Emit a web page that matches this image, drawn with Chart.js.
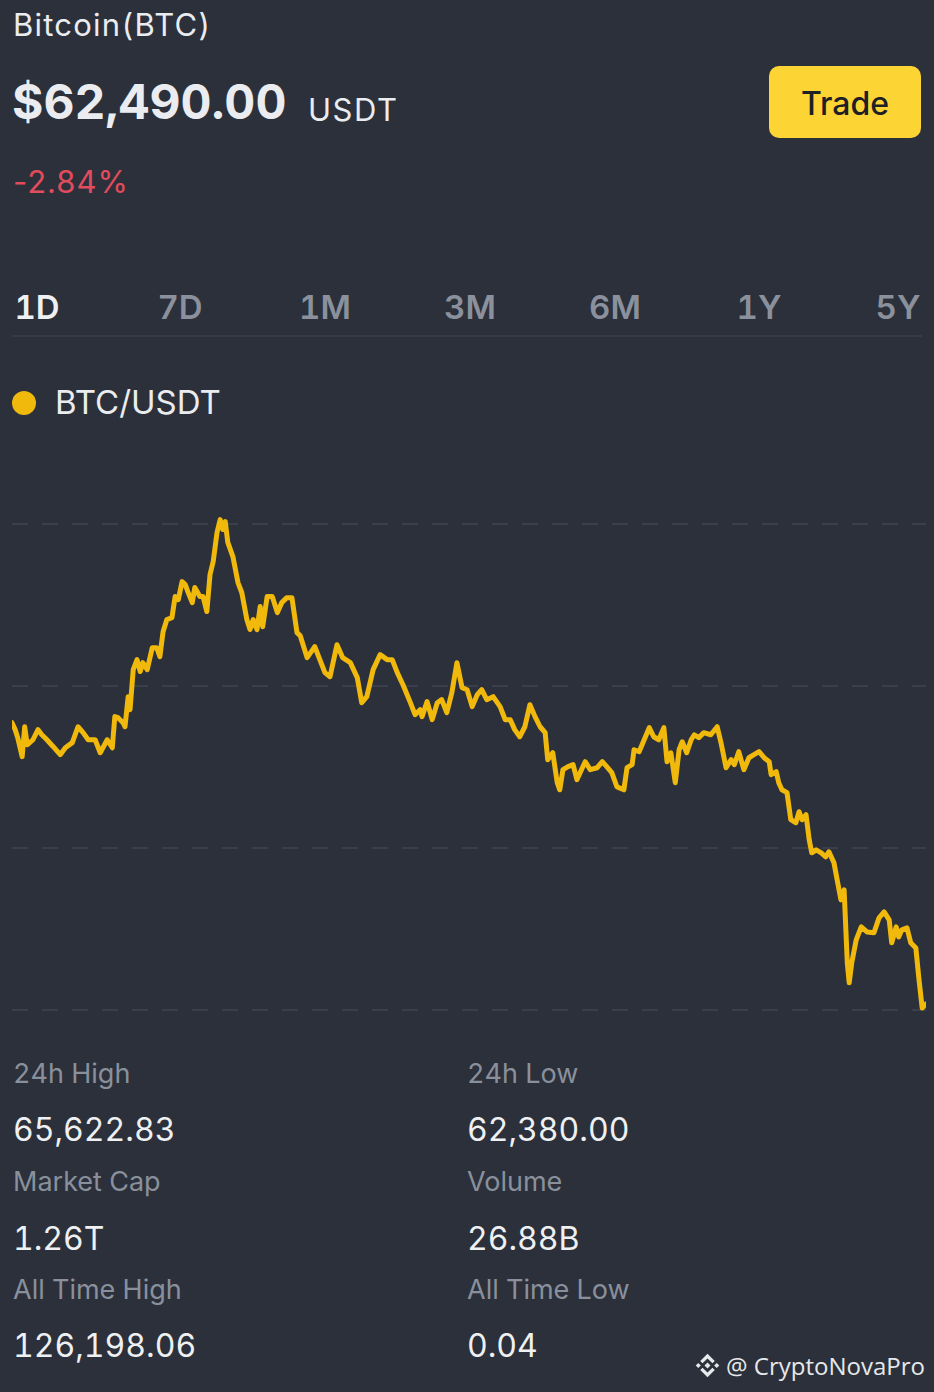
<!DOCTYPE html>
<html>
<head>
<meta charset="utf-8">
<script src="https://cdn.jsdelivr.net/npm/chart.js@4.4.1/dist/chart.umd.min.js"></script>
<style>
    html, body {
        margin: 0;
        padding: 0;
        width: 934px;
        height: 1392px;
        background: #2b303b;
        overflow: hidden;
        font-family: "Inter", "Lato", sans-serif;
        font-variant-numeric: tabular-nums;
        color: #eaecef;
    }
    .t {
        position: absolute;
        line-height: 1;
        white-space: nowrap;
    }
    .tab {
        position: absolute;
        top: 291px;
        font-size: 33px;
        font-weight: 600;
        line-height: 1;
        color: #8b919c;
        transform: translateX(-50%);
    }
    .tab.active {
        color: #eef0f2;
    }
    .label {
        font-size: 27px;
        color: #8a909b;
    }
    .value {
        font-size: 32px;
        color: #eef0f2;
    }
    #chart_box {
        position: absolute;
        left: 12px;
        top: 508px;
        width: 914px;
        height: 514px;
    }
</style>
</head>
<body>

<div class="t" style="left:13px; top:9px; font-size:31px; letter-spacing:1.2px;">Bitcoin(BTC)</div>
<div class="t" style="left:12px; top:78px; font-size:48px; font-weight:700;">$62,490.00</div>
<div class="t" style="left:308px; top:94px; font-size:31px; letter-spacing:1.5px;">USDT</div>
<div class="t" style="left:13px; top:166px; font-size:31px; font-variant-numeric:normal; letter-spacing:1px; color:#e24b5b;">-2.84%</div>

<div style="position:absolute; left:769px; top:66px; width:152px; height:72px; border-radius:10px; background:#fcd535;">
    <div class="t" style="left:0; width:152px; top:22px; text-align:center; font-size:32px; font-weight:500; color:#1e2026;">Trade</div>
</div>

<div id="tabs"></div>
<div style="position:absolute; left:12px; top:335px; width:910px; height:2px; background:#363b46;"></div>

<div style="position:absolute; left:12px; top:391px; width:24px; height:24px; border-radius:12px; background:#f0b90b;"></div>
<div class="t" style="left:55px; top:386px; font-size:33px;">BTC/USDT</div>

<div id="chart_box"><canvas id="price_chart"></canvas></div>

<div id="stats"></div>

<svg style="position:absolute; left:694px; top:1352px;" width="27" height="27" viewBox="0 0 126 126">
    <g fill="#e6e8eb">
        <polygon points="63,8 97,42 86,53 63,30 40,53 29,42"/>
        <polygon points="63,118 97,84 86,73 63,96 40,73 29,84"/>
        <polygon points="63,49 77,63 63,77 49,63"/>
        <polygon points="8,63 20,51 32,63 20,75"/>
        <polygon points="94,63 106,51 118,63 106,75"/>
    </g>
</svg>
<div class="t" style="right:9px; top:1354px; font-size:24px; font-family:'Open Sans', sans-serif; color:#e6e8eb;">@ CryptoNovaPro</div>

<script>
// Period tabs
var periods = ["1D", "7D", "1M", "3M", "6M", "1Y", "5Y"];
var periodCenters = [37, 180, 325, 470, 615, 759, 898];

// Stats below the chart
var statLabels = ["24h High", "24h Low", "Market Cap", "Volume", "All Time High", "All Time Low"];
var statValues = ["65,622.83", "62,380.00", "1.26T", "26.88B", "126,198.06", "0.04"];

// 1D price series: minutes since start of window, price in USDT
var minutes = [
    0, 5, 9, 16, 20, 24, 28, 33, 41, 47, 55, 65, 76, 84, 95, 104, 112, 120, 131, 139,
    150, 158, 162, 167, 175, 178, 183, 186, 191, 197, 202, 206, 213, 221, 228, 233, 238, 244, 252, 257,
    262, 268, 273, 277, 284, 288, 296, 301, 307, 312, 317, 323, 328, 332, 336, 340, 348, 356, 362, 370,
    375, 380, 386, 391, 395, 402, 410, 418, 425, 433, 441, 449, 454, 465, 477, 485, 493, 501, 512, 521,
    533, 544, 551, 559, 569, 580, 591, 599, 607, 616, 627, 635, 643, 646, 654, 662, 670, 677, 685, 693,
    701, 709, 717, 725, 733, 740, 748, 758, 769, 777, 785, 792, 800, 808, 816, 824, 832, 840, 844, 852,
    859, 863, 868, 876, 884, 890, 895, 903, 911, 922, 930, 937, 945, 953, 956, 964, 969, 977, 980, 988,
    996, 1004, 1011, 1019, 1027, 1032, 1038, 1045, 1051, 1056, 1063, 1070, 1075, 1082, 1090, 1101, 1111, 1117, 1125, 1133,
    1138, 1145, 1153, 1161, 1169, 1177, 1185, 1193, 1196, 1204, 1208, 1213, 1221, 1227, 1235, 1240, 1245, 1251, 1256, 1260,
    1267, 1275, 1282, 1287, 1295, 1300, 1306, 1311, 1316, 1319, 1323, 1330, 1338, 1347, 1358, 1366, 1374, 1382, 1386, 1393,
    1397, 1402, 1410, 1416, 1424, 1429, 1434, 1440
];
var prices = [
    64280, 64234, 64181, 64055, 64253, 64134, 64148, 64167, 64234, 64200, 64167, 64121, 64068, 64114, 64148, 64253, 64214, 64167, 64167, 64081,
    64167, 64114, 64320, 64313, 64280, 64253, 64452, 64366, 64631, 64697, 64618, 64677, 64631, 64776, 64776, 64717, 64882, 64962, 64975, 65114,
    65094, 65213, 65194, 65147, 65074, 65174, 65114, 65114, 65015, 65260, 65346, 65538, 65623, 65558, 65610, 65472, 65379, 65207, 65141, 64962,
    64896, 64962, 64896, 65048, 64915, 65114, 65114, 65008, 65074, 65107, 65107, 64876, 64856, 64710, 64783, 64697, 64611, 64584, 64796, 64710,
    64677, 64578, 64412, 64452, 64631, 64730, 64697, 64697, 64611, 64531, 64419, 64333, 64366, 64320, 64419, 64300, 64412, 64432, 64346, 64479,
    64677, 64512, 64498, 64386, 64465, 64498, 64432, 64452, 64386, 64300, 64300, 64234, 64187, 64253, 64399, 64320, 64253, 64214, 64035, 64081,
    63883, 63836, 63969, 63989, 64002, 63903, 63949, 64022, 63969, 63982, 64022, 63989, 63949, 63856, 63850, 63836, 63982, 64002, 64101, 64088,
    64167, 64247, 64187, 64167, 64247, 64022, 64081, 63883, 64101, 64154, 64081, 64167, 64200, 64181, 64214, 64200, 64253, 64148, 63982, 64035,
    64002, 64088, 63969, 64048, 64068, 64088, 64048, 64022, 63936, 63956, 63883, 63836, 63817, 63638, 63618, 63691, 63638, 63671, 63505, 63419,
    63439, 63419, 63393, 63426, 63353, 63241, 63108, 63174, 62691, 62559, 62691, 62843, 62929, 62896, 62890, 62989, 63029, 62976, 62824, 62929,
    62863, 62910, 62923, 62824, 62790, 62579, 62393, 62420
];

// Dashed guide lines
var gridPrices = [62380, 63452, 64524, 65596];

function init_tabs() {
    var box = document.getElementById("tabs");
    for (var i = 0; i < periods.length; i++) {
        var el = document.createElement("div");
        el.className = "tab" + (i === 0 ? " active" : "");
        el.style.left = periodCenters[i] + "px";
        el.textContent = periods[i];
        box.appendChild(el);
    }
}

function init_stats() {
    var box = document.getElementById("stats");
    var labelTops = [1060, 1168, 1276];
    var valueTops = [1114, 1223, 1330];
    for (var i = 0; i < statLabels.length; i++) {
        var row = Math.floor(i / 2);
        var left = (i % 2 === 0) ? 13 : 467;

        var l = document.createElement("div");
        l.className = "t label";
        l.style.left = left + "px";
        l.style.top = labelTops[row] + "px";
        l.textContent = statLabels[i];
        box.appendChild(l);

        var v = document.createElement("div");
        v.className = "t value";
        v.style.left = left + "px";
        v.style.top = valueTops[row] + "px";
        v.textContent = statValues[i];
        box.appendChild(v);
    }
}

function init_price_chart() {
    var ctx = document.getElementById("price_chart").getContext("2d");

    var points = [];
    for (var i = 0; i < minutes.length; i++) {
        points.push({ x: minutes[i], y: prices[i] });
    }

    new Chart(ctx, {
        type: "line",
        data: {
            datasets: [{
                label: "BTC/USDT",
                data: points,
                borderColor: "#f0b90b",
                borderWidth: 5,
                pointRadius: 0,
                tension: 0,
                fill: false,
                borderJoinStyle: "round",
                borderCapStyle: "round"
            }]
        },
        options: {
            responsive: true,
            maintainAspectRatio: false,
            animation: false,
            layout: { padding: 0 },
            plugins: {
                legend: { display: false },
                tooltip: { enabled: false }
            },
            scales: {
                x: {
                    type: "linear",
                    min: 0,
                    max: 1440,
                    display: false
                },
                y: {
                    min: 62300,
                    max: 65700,
                    afterBuildTicks: function (scale) {
                        scale.ticks = gridPrices.map(function (v) { return { value: v }; });
                    },
                    ticks: { display: false },
                    grid: {
                        color: "#3a3f4b",
                        lineWidth: 2,
                        drawTicks: false
                    },
                    border: {
                        display: false,
                        dash: [16, 14]
                    }
                }
            }
        }
    });
}

init_tabs();
init_stats();
init_price_chart();
</script>
</body>
</html>
